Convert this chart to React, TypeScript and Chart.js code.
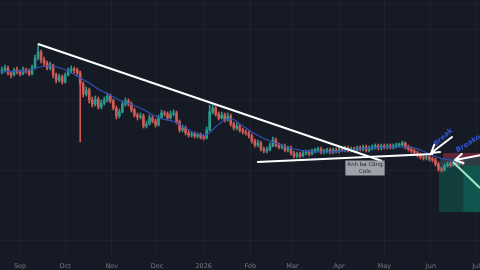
import { useEffect, useRef } from 'react';
import { Chart, registerables } from 'chart.js';
Chart.register(...registerables);

// Time axis: days since 1 Sep 2025
const MONTH_DAYS = [0, 30, 61, 91, 122, 153, 181, 212, 242, 273, 303];
const MONTH_LABELS = ['Sep', 'Oct', 'Nov', 'Dec', '2026', 'Feb', 'Mar', 'Apr', 'May', 'Jun', 'Jul'];
const VIEW_START_DAY = -13.3;
const VIEW_END_DAY = 305.6;
const PRICE_MIN = 0.44;
const PRICE_MAX = 3.0;
const PRICE_GRID = [0.6, 1.3, 2.0, 2.7, 2.95];

// Candles (one every 2 days)
const FIRST_CANDLE_DAY = -12;
const CANDLE_STEP_DAYS = 2;
const FIRST_OPEN = 2.28;
const CLOSES = [
  2.30, 2.32, 2.27, 2.25, 2.30, 2.28, 2.26, 2.30, 2.29, 2.26,
  2.32, 2.42, 2.48, 2.40, 2.37, 2.32, 2.35, 2.25, 2.20, 2.23,
  2.18, 2.25, 2.29, 2.31, 2.30, 2.27, 2.16, 2.06, 2.10, 2.00,
  1.96, 2.01, 1.93, 1.97, 2.00, 2.04, 1.99, 1.92, 1.84, 1.88,
  1.96, 1.99, 1.96, 1.90, 1.85, 1.83, 1.84, 1.74, 1.76, 1.82,
  1.79, 1.75, 1.82, 1.87, 1.86, 1.82, 1.86, 1.87, 1.78, 1.70,
  1.72, 1.67, 1.65, 1.66, 1.64, 1.65, 1.63, 1.62, 1.70, 1.88,
  1.92, 1.86, 1.82, 1.85, 1.80, 1.84, 1.76, 1.72, 1.74, 1.70,
  1.68, 1.67, 1.64, 1.59, 1.55, 1.57, 1.51, 1.49, 1.50, 1.54,
  1.60, 1.55, 1.53, 1.54, 1.50, 1.52, 1.47, 1.44, 1.46, 1.44,
  1.47, 1.48, 1.46, 1.49, 1.50, 1.51, 1.48, 1.49, 1.50, 1.48,
  1.50, 1.49, 1.51, 1.50, 1.52, 1.50, 1.51, 1.50, 1.52, 1.51,
  1.53, 1.50, 1.52, 1.53, 1.54, 1.52, 1.54, 1.53, 1.54, 1.53,
  1.54, 1.55, 1.55, 1.57, 1.53, 1.51, 1.49, 1.47, 1.45, 1.43,
  1.42, 1.43, 1.41, 1.40, 1.36, 1.31, 1.30, 1.34, 1.36, 1.35,
  1.37, 1.36, 1.38, 1.37,
];
const HIGHS = [
  2.33, 2.35, 2.34, 2.29, 2.32, 2.33, 2.30, 2.33, 2.32, 2.31,
  2.35, 2.45, 2.56, 2.50, 2.43, 2.39, 2.38, 2.36, 2.27, 2.26,
  2.25, 2.27, 2.32, 2.34, 2.33, 2.32, 2.29, 2.18, 2.13, 2.12,
  2.03, 2.04, 2.03, 2.00, 2.03, 2.07, 2.06, 2.01, 1.94, 1.91,
  1.99, 2.02, 2.01, 1.98, 1.92, 1.87, 1.87, 1.86, 1.79, 1.85,
  1.84, 1.81, 1.85, 1.90, 1.89, 1.88, 1.89, 1.90, 1.89, 1.80,
  1.75, 1.74, 1.69, 1.68, 1.68, 1.67, 1.67, 1.65, 1.73, 1.95,
  1.95, 1.94, 1.88, 1.88, 1.87, 1.87, 1.86, 1.78, 1.77, 1.76,
  1.72, 1.70, 1.69, 1.66, 1.61, 1.60, 1.59, 1.53, 1.53, 1.57,
  1.63, 1.62, 1.57, 1.56, 1.56, 1.54, 1.54, 1.49, 1.48, 1.48,
  1.49, 1.50, 1.50, 1.51, 1.52, 1.53, 1.53, 1.51, 1.52, 1.52,
  1.52, 1.52, 1.53, 1.53, 1.54, 1.54, 1.53, 1.53, 1.54, 1.54,
  1.55, 1.55, 1.54, 1.55, 1.56, 1.56, 1.56, 1.56, 1.56, 1.56,
  1.56, 1.57, 1.57, 1.59, 1.58, 1.55, 1.53, 1.51, 1.49, 1.47,
  1.45, 1.45, 1.45, 1.43, 1.42, 1.38, 1.33, 1.36, 1.38, 1.38,
  1.39, 1.38, 1.40, 1.39,
];
const LOWS = [
  2.26, 2.28, 2.25, 2.22, 2.24, 2.26, 2.24, 2.25, 2.27, 2.24,
  2.25, 2.31, 2.40, 2.37, 2.34, 2.30, 2.30, 2.22, 2.17, 2.18,
  2.16, 2.17, 2.24, 2.27, 2.27, 2.25, 1.58, 2.03, 2.04, 1.97,
  1.93, 1.94, 1.91, 1.91, 1.95, 1.98, 1.97, 1.90, 1.81, 1.82,
  1.87, 1.94, 1.94, 1.88, 1.83, 1.80, 1.81, 1.72, 1.72, 1.75,
  1.77, 1.73, 1.74, 1.81, 1.84, 1.80, 1.81, 1.84, 1.76, 1.68,
  1.68, 1.65, 1.63, 1.63, 1.62, 1.62, 1.61, 1.60, 1.61, 1.69,
  1.86, 1.84, 1.80, 1.81, 1.78, 1.79, 1.74, 1.70, 1.70, 1.68,
  1.66, 1.65, 1.62, 1.57, 1.53, 1.53, 1.49, 1.47, 1.47, 1.49,
  1.53, 1.53, 1.51, 1.51, 1.48, 1.48, 1.45, 1.42, 1.42, 1.42,
  1.43, 1.45, 1.44, 1.45, 1.47, 1.48, 1.46, 1.46, 1.47, 1.46,
  1.46, 1.47, 1.47, 1.48, 1.48, 1.48, 1.48, 1.48, 1.48, 1.49,
  1.49, 1.48, 1.48, 1.50, 1.51, 1.50, 1.50, 1.51, 1.51, 1.51,
  1.51, 1.52, 1.53, 1.53, 1.51, 1.49, 1.47, 1.45, 1.43, 1.41,
  1.40, 1.40, 1.39, 1.38, 1.34, 1.29, 1.28, 1.29, 1.33, 1.33,
  1.34, 1.34, 1.35, 1.35,
];

// Moving average
const MA_DAYS = [
  -13, 0, 7, 13, 20, 27, 33, 40, 47, 53,
  60, 66, 73, 80, 86, 93, 103, 110, 116, 123,
  130, 136, 141, 146, 153, 160, 166, 173, 179, 186,
  196, 206, 219, 233, 246, 259, 266, 272, 279, 286,
  292,
];
const MA_VALUES = [
  2.28, 2.29, 2.30, 2.33, 2.34, 2.32, 2.28, 2.22, 2.16, 2.10,
  2.05, 2.00, 1.96, 1.92, 1.87, 1.82, 1.78, 1.72, 1.67, 1.65,
  1.73, 1.80, 1.81, 1.76, 1.69, 1.63, 1.59, 1.55, 1.52, 1.50,
  1.48, 1.48, 1.50, 1.52, 1.53, 1.53, 1.50, 1.46, 1.42, 1.40,
  1.38,
];

// Drawings (in days / price)
const RESISTANCE_DAYS = [12, 240.5];
const RESISTANCE_PRICES = [2.56, 1.39];
const SUPPORT_DAYS = [157.5, 274.4];
const SUPPORT_PRICES = [1.38, 1.46];
const STOP_ZONE = [281.1, 305.6, 1.47, 1.42];
const ENTRY_ZONE = [279.1, 305.6, 1.42, 1.34];
const TARGET_ZONE_A = [278.4, 294.4, 1.34, 0.88];
const TARGET_ZONE_B = [294.4, 305.6, 1.34, 0.88];
const TARGET_PATH_DAYS = [287.7, 305.6];
const TARGET_PATH_PRICES = [1.38, 1.12];
const ARROW_BREAK = [287.0, 1.63, 273.1, 1.47];
const ARROW_RETEST = [306.3, 1.45, 289.0, 1.40];
const TEXT_BREAK = { text: 'Break', day: 275.5, price: 1.55, angle: -42 };
const TEXT_RETEST = { text: 'Breakout retest', day: 290.0, price: 1.49, angle: -32 };
const NOTE_LINES = ['Anh ba Công', 'Cole'];
const NOTE_POS = { day: 229.2, price: 1.32 };

const BG = '#161a25';
const GRID = '#1e222e';
const UP = '#2b9a8c';
const DOWN = '#d05a55';

function drawArrow(ctx: CanvasRenderingContext2D, x0: number, y0: number, x1: number, y1: number) {
  ctx.beginPath();
  ctx.moveTo(x0, y0);
  ctx.lineTo(x1, y1);
  const a = Math.atan2(y1 - y0, x1 - x0);
  const L = 9;
  ctx.moveTo(x1, y1);
  ctx.lineTo(x1 - L * Math.cos(a - 0.55), y1 - L * Math.sin(a - 0.55));
  ctx.moveTo(x1, y1);
  ctx.lineTo(x1 - L * Math.cos(a + 0.55), y1 - L * Math.sin(a + 0.55));
  ctx.stroke();
}

const overlayPlugin = {
  id: 'overlay',
  beforeDraw(chart: any) {
    const ctx = chart.ctx;
    ctx.save();
    ctx.fillStyle = BG;
    ctx.fillRect(0, 0, chart.width, chart.height);
    ctx.restore();
  },
  beforeDatasetsDraw(chart: any) {
    const { ctx, scales } = chart;
    const X = (d: number) => scales.x.getPixelForValue(d);
    const Y = (p: number) => scales.y.getPixelForValue(p);
    const box = (z: number[], c: string) => {
      ctx.fillStyle = c;
      ctx.fillRect(X(z[0]), Y(z[2]), X(z[1]) - X(z[0]), Y(z[3]) - Y(z[2]));
    };
    ctx.save();
    box(TARGET_ZONE_A, '#123f3d');
    box(TARGET_ZONE_B, '#0f574e');
    box(ENTRY_ZONE, '#2e3d45');
    box(STOP_ZONE, '#642636');
    ctx.restore();
  },
  afterDatasetsDraw(chart: any) {
    const { ctx, scales } = chart;
    const X = (d: number) => scales.x.getPixelForValue(d);
    const Y = (p: number) => scales.y.getPixelForValue(p);
    ctx.save();
    ctx.strokeStyle = '#a3e4c6';
    ctx.lineWidth = 2;
    ctx.beginPath();
    ctx.moveTo(X(TARGET_PATH_DAYS[0]), Y(TARGET_PATH_PRICES[0]));
    ctx.lineTo(X(TARGET_PATH_DAYS[1]), Y(TARGET_PATH_PRICES[1]));
    ctx.stroke();
    ctx.strokeStyle = '#ffffff';
    ctx.lineWidth = 2;
    ctx.lineCap = 'round';
    drawArrow(ctx, X(ARROW_BREAK[0]), Y(ARROW_BREAK[1]), X(ARROW_BREAK[2]), Y(ARROW_BREAK[3]));
    drawArrow(ctx, X(ARROW_RETEST[0]), Y(ARROW_RETEST[1]), X(ARROW_RETEST[2]), Y(ARROW_RETEST[3]));
    ctx.fillStyle = '#2f55d8';
    ctx.font = 'italic bold 7px "DejaVu Sans", sans-serif';
    ctx.textBaseline = 'middle';
    for (const t of [TEXT_BREAK, TEXT_RETEST]) {
      ctx.save();
      ctx.translate(X(t.day), Y(t.price));
      ctx.rotate((t.angle * Math.PI) / 180);
      ctx.textAlign = 'left';
      ctx.fillText(t.text, 0, 0);
      ctx.restore();
    }
    const cx = X(NOTE_POS.day);
    const cy = Y(NOTE_POS.price);
    ctx.font = '5.5px "DejaVu Sans", sans-serif';
    const w = Math.max(...NOTE_LINES.map((l) => ctx.measureText(l).width)) + 4;
    const h = 15;
    ctx.fillStyle = '#9ea1aa';
    ctx.fillRect(cx - w / 2, cy - h / 2, w, h);
    ctx.fillStyle = '#1b1f2a';
    ctx.textAlign = 'center';
    ctx.textBaseline = 'middle';
    ctx.fillText(NOTE_LINES[0], cx, cy - 3.3);
    ctx.fillText(NOTE_LINES[1], cx, cy + 3.3);
    ctx.restore();
  },
};

export default function App() {
  const ref = useRef<HTMLCanvasElement>(null);
  useEffect(() => {
    document.body.style.margin = '0';
    document.body.style.background = BG;
    const opens = CLOSES.map((_, i) => (i === 0 ? FIRST_OPEN : CLOSES[i - 1]));
    const days = CLOSES.map((_, i) => FIRST_CANDLE_DAY + i * CANDLE_STEP_DAYS);
    const colors = CLOSES.map((c, i) => (c >= opens[i] ? UP : DOWN));
    const wicks = days.map((d, i) => ({ x: d, y: [LOWS[i], HIGHS[i]] }));
    const bodies = days.map((d, i) => ({ x: d, y: [opens[i], CLOSES[i]] }));
    const chart = new Chart(ref.current!, {
      type: 'bar',
      data: {
        datasets: [
          {
            type: 'line',
            data: MA_DAYS.map((d, i) => ({ x: d, y: MA_VALUES[i] })),
            borderColor: '#2f50b8',
            borderWidth: 1.2,
            pointRadius: 0,
            cubicInterpolationMode: 'monotone',
            order: 1,
          } as any,
          {
            data: wicks,
            backgroundColor: colors,
            barThickness: 1,
            grouped: false,
            order: 3,
          } as any,
          {
            data: bodies,
            backgroundColor: colors,
            barThickness: 2,
            minBarLength: 1,
            grouped: false,
            order: 2,
          } as any,
          {
            type: 'line',
            data: RESISTANCE_DAYS.map((d, i) => ({ x: d, y: RESISTANCE_PRICES[i] })),
            borderColor: '#ffffff',
            borderWidth: 2,
            pointRadius: 0,
            order: 0,
          } as any,
          {
            type: 'line',
            data: SUPPORT_DAYS.map((d, i) => ({ x: d, y: SUPPORT_PRICES[i] })),
            borderColor: '#ffffff',
            borderWidth: 2,
            pointRadius: 0,
            order: 0,
          } as any,
        ],
      },
      options: {
        animation: false,
        responsive: false,
        devicePixelRatio: 1,
        layout: { padding: 0 },
        plugins: { legend: { display: false }, tooltip: { enabled: false } },
        scales: {
          x: {
            type: 'linear',
            offset: false,
            min: VIEW_START_DAY,
            max: VIEW_END_DAY,
            afterBuildTicks: (s: any) => {
              s.ticks = MONTH_DAYS.map((v) => ({ value: v }));
            },
            afterFit: (s: any) => {
              s.height = 14;
              s.paddingLeft = 0;
              s.paddingRight = 0;
            },
            ticks: {
              autoSkip: false,
              maxRotation: 0,
              padding: 6,
              color: '#73777f',
              font: { size: 6.5, family: '"DejaVu Sans", sans-serif' },
              callback: (v: any) => {
                const i = MONTH_DAYS.indexOf(Number(v));
                return i >= 0 ? MONTH_LABELS[i] : '';
              },
            },
            grid: { color: GRID, drawTicks: false, offset: false },
            border: { display: false },
          },
          y: {
            min: PRICE_MIN,
            max: PRICE_MAX,
            afterBuildTicks: (s: any) => {
              s.ticks = PRICE_GRID.map((v) => ({ value: v }));
            },
            afterFit: (s: any) => {
              s.width = 0;
            },
            ticks: { display: false },
            grid: { color: GRID, drawTicks: false },
            border: { display: false },
          },
        },
      } as any,
      plugins: [overlayPlugin],
    });
    return () => chart.destroy();
  }, []);
  return <canvas ref={ref} width={480} height={270} style={{ display: 'block' }} />;
}
